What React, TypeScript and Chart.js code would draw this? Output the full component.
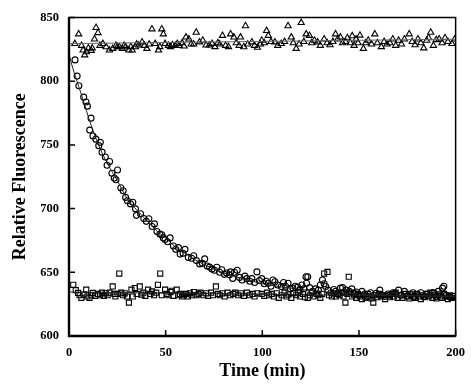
import React, { useEffect, useRef } from "react";
import { Chart, registerables } from "chart.js";
Chart.register(...registerables);

const xTicks = [0, 50, 100, 150, 200];
const yTicks = [600, 650, 700, 750, 800, 850];

const triX = [3,5,6.5,7.3,8.1,9,10,11.5,12,13.2,14,15,16,17.5,19.2,20.9,22.6,24.3,25,26,27.6,28.5,29.3,31,32,32.7,34.4,35,36.1,37.8,39,40.3,41.5,42.9,44.6,46.3,47,48,48.8,49.7,51.4,52.5,53.5,55,56,57,58.5,59.5,60.5,62,63.2,64.5,65.8,67.5,69.2,70.9,72.6,74,75.5,77,78,79.4,81,82.5,83.6,85.3,86.5,88,88.7,90.4,91.3,92.5,94.6,96,97.5,99,99.7,101,102.2,103.1,104.5,106.5,108,109.8,111.5,113.3,115,116,117.5,119,120.1,121.5,122.7,124.4,125.5,127,128.6,130,132,133.5,135,136.5,137.9,139,140.4,141.5,143,144,145.5,146.5,147.5,148.5,149.5,150.5,152.3,153.5,154.8,156.5,158.2,159.5,161.6,163,164.5,166,167.5,169,170.5,172,173.5,176,177.5,179,180.5,182,183.5,185,186,187.1,188.5,190,191.5,193,194.5,196,198.1,199.5];
const triY = [829.4,837,828,824.3,820.5,823,826,824,826,833,842,838,828,829.4,826.9,824.3,825.6,828,827,826.9,825.6,828,826.9,824.3,827,824.3,826.9,829,828.2,830.7,828,825.6,829,840.9,829.4,824.3,827,840.9,837,829.4,828,827,828.5,828,829.5,828,830,827.5,834.5,833,829,829,838.3,830.7,832,828.2,828.2,829.5,827,830,829,835.8,828,827,837,834.5,830,828,834.5,826.9,843.4,829,830.7,828,826.5,829,832,830,839.6,835.8,831,830.7,828,829.4,831,843.4,834.5,830,825.6,829,845.9,831,837,835.8,830,832,830.7,828,833,830,828.5,831,837,833,834.5,830,831,834,830,835.5,828,833,830,836,825.6,830,832,829,837,830,827,831,829,830,833,828,832,829,833,837,831,828.5,833,830,826,832,834,838.3,828,832.5,833,830,834,831,829.4,833];

const cirX = [3.1,4.2,5.1,7.6,8.8,9.5,10.7,11.4,12.4,13.9,15.4,16.2,17.1,18.8,19.7,21,22.2,23.4,24.3,25.1,26.8,28,29.3,30.2,31.8,33,34.4,34.9,37,38.7,40,41.3,43,44.2,45.5,47,48,48.8,49.7,51,52.3,54,55.2,56.6,57.5,59,60,61.7,63.4,64.5,65.9,67.6,69,70.2,71.5,72.7,74,75.3,76.5,77.9,79,80.4,81.5,83,83.6,84.7,85.6,87,88.2,89.5,91,92,93.5,94.6,96,97.2,98.5,99.7,101,102,103.1,104.5,105.5,106.5,108,109.8,111,112,113.3,114.5,115.8,117,118.3,119.5,120.5,121.5,122.6,123.5,122.9,124.5,126,127.5,129,130,131.1,132,132.8,134,135.5,137,137.9,139,140.4,141.5,142.5,143.5,145,146.3,147.5,148.5,150,151.5,153,154.5,156,157.5,159,160.8,162,163.5,165,166,167.6,169,170.5,172,173.5,175,176.5,178,178.6,180,182,183.5,185,186.5,188,188.8,190,191,192,193.2,193.9,195,196.5,197.3,199];
const cirY = [816.7,804,796.4,787.5,783.7,780.4,761.6,771,757,754.5,749.4,752,744.3,740.5,734,737,727.8,724,722.7,730.3,716.4,714,708.8,706.2,703.7,705,699.8,694.7,696,692.2,690,692,685.9,688,682,680,679.5,677,675.7,674,677,670.7,668,669.4,664.3,665,668,661.7,661,663,659.2,656.6,657,660.5,655,654.1,652.5,651.6,654,650,652,648.4,649.5,648,650.3,645.2,650,651.6,646,644,647,645,643,645,642,650.3,643.5,645,641,643,641.4,639,644,642.6,640,638.9,642,639,641.4,637,637.6,639,638.5,636,640,637,646.5,646.5,641.4,638,635,637,636,640,644,641,638.9,636,634,636.5,635,633,637.6,638,634,636,635,637,633.5,634.5,632,635,633,631,634,632,633.5,636,632,631,633,632,634,633,636,632,635,631.5,633,634,631,632.5,634,631,633,632,634,634,631,635,633,637.6,639,632,631,630.5,631];

const sqX = [2.2,3.5,4.7,5.5,6.4,7.5,8.9,9.5,10.6,11.5,12.3,13.5,15,16,17,18,19,20,21,22.6,23.5,24,25.1,26,27,28,28.8,30,31,32.3,33,34.1,35,36.6,37.5,38.5,39.5,40.9,42,43,44,45.1,46,47.2,48,49.7,50.5,51.5,52.5,53.1,54,55.7,56.5,57.5,58.5,59.5,60.5,61.5,62.5,63.5,64.6,66,67,68,69.5,71,72,73.5,74.5,76,77,78,79.4,80.5,82,83.5,85,86,87.5,89,90.5,92,93.5,95,96,97.5,99.7,101,102.5,103.5,104.8,106,107.5,108.5,110,111.5,112.5,113.5,115,116,117.5,118.5,119.5,121,122,123.5,124.5,125.5,126.5,128,129,130,131,132,133.7,134.5,136,137,138,139,140,141,142,143,144,144.7,145.5,146.5,147.5,148.5,149.5,150.5,151.5,152.5,153.5,154.5,155.5,156.5,157.4,158.5,159.5,160.5,161.5,162.5,163.5,165,166,167,168,169,170,171.5,172.5,173.5,175,176,177,178,179,180,181,182,183,184,185,186,187,188,189,190,191,192,193,194,195,196,197,198,199];
const sqY = [640.2,636,633.8,632,630,632.5,636.4,631,630,632,633.8,631.5,633,632,634,631.5,633.5,632,634,638.9,633,631,633,649,634,632,633.5,631,626.2,636.4,631,637.6,633,638.9,632.5,634,631.5,636.4,633,635,632,634,640.2,649,632,636.4,633,632,634.5,635.5,631.5,636.4,632,633,631,632,633,631,633.5,632,634.5,632,633,634,632,633.5,631.5,634,632,638.9,633,632,633.5,631,634,632,633,634,632,633.5,631.5,634,632,633,631,633.5,633,631.5,634,632,633,631,633.5,630,632,634,631,632.5,630,633.5,632,634,631,633,630.5,630,632,634,631,633,632,630,633,649,650.3,632,631,633.5,631,633,632,634,631,626.2,633,646.5,634,631,632.5,630,633,631,629,632,630,633,631,629.5,626.2,632,630.5,633,631,632,629,632,630.5,633,631,634,630,632,630,633,631,629.5,632.5,631,630,633,631,629,632,630.5,633,631,634,630,632,629.5,632,631,630,633,631,629,632,630,631.5];

const fitTriX = [0, 200];
const fitTriY = [829.5, 833];
const fitCirX = [0,2,5,8,10,15,20,25,30,35,40,45,50,55,60,65,70,75,80,85,90,95,100,110,120,130,140,150,160,170,180,190,200];
const fitCirY = [821,810,796,782,772,751,735,722,708,699,691,683,677,670,665,660,656,652.5,649.5,647,645,643,641,638.5,636.5,635,633.8,633,632.4,632,631.7,631.5,631.3];
const fitSqX = [0, 200];
const fitSqY = [634.5, 631];

const pts = (xs: number[], ys: number[]) => xs.map((x, i) => ({ x, y: ys[i] }));

const FONT = "'Liberation Serif', 'DejaVu Serif', serif";

export default function App() {
  const ref = useRef<HTMLCanvasElement>(null);
  useEffect(() => {
    if (!ref.current) return;
    const frame = {
      id: "frame",
      afterDraw(chart: any) {
        const { ctx, chartArea: a, scales } = chart;
        ctx.save();
        ctx.strokeStyle = "#000";
        ctx.lineWidth = 1.5;
        ctx.strokeRect(a.left, a.top, a.right - a.left, a.bottom - a.top);
        ctx.lineWidth = 2.4;
        ctx.beginPath();
        ctx.moveTo(a.left, a.top);
        ctx.lineTo(a.left, a.bottom);
        ctx.lineTo(a.right, a.bottom);
        ctx.stroke();
        ctx.lineWidth = 1.5;
        ctx.beginPath();
        xTicks.forEach((v) => {
          const px = scales.x.getPixelForValue(v);
          ctx.moveTo(px, a.bottom);
          ctx.lineTo(px, a.bottom - 6);
        });
        yTicks.forEach((v) => {
          const py = scales.y.getPixelForValue(v);
          ctx.moveTo(a.left, py);
          ctx.lineTo(a.left + 6, py);
        });
        ctx.stroke();
        ctx.restore();
      },
    };
    const mk = (data: any[], style: string, r: number) => ({
      data,
      pointStyle: style,
      pointRadius: r,
      pointBorderColor: "#000",
      pointBackgroundColor: "rgba(0,0,0,0)",
      pointBorderWidth: 1.1,
      showLine: false,
    });
    const line = (data: any[], color: string) => ({
      data,
      showLine: true,
      pointRadius: 0,
      borderColor: color,
      borderWidth: 1,
      tension: 0.4,
      cubicInterpolationMode: "monotone",
    });
    const chart = new Chart(ref.current, {
      type: "scatter",
      data: {
        datasets: [
          line(pts(fitTriX, fitTriY), "#666") as any,
          line(pts(fitCirX, fitCirY), "#222") as any,
          line(pts(fitSqX, fitSqY), "#222") as any,
          mk(pts(triX, triY), "triangle", 3.6) as any,
          mk(pts(cirX, cirY), "circle", 3) as any,
          mk(pts(sqX, sqY), "rect", 3.6) as any,
        ],
      },
      options: {
        responsive: false,
        animation: false,
        layout: { padding: { top: 8, right: 12, left: 0, bottom: 0 } },
        plugins: { legend: { display: false }, tooltip: { enabled: false } },
        scales: {
          x: {
            type: "linear",
            min: 0,
            max: 200,
            afterFit: (s: any) => { s.height = 54; },
            afterBuildTicks: (s: any) => { s.ticks = xTicks.map((v) => ({ value: v })); },
            ticks: { color: "#000", padding: 9, maxRotation: 0, font: { family: FONT, weight: "bold", size: 12.5 } },
            grid: { display: false, drawTicks: false },
            border: { display: false },
            title: { display: true, text: "Time (min)", color: "#000", font: { family: FONT, weight: "bold", size: 18 }, padding: { top: 0, bottom: 8 } },
          },
          y: {
            type: "linear",
            min: 600,
            max: 850,
            afterFit: (s: any) => { s.width = 69; },
            afterBuildTicks: (s: any) => { s.ticks = yTicks.map((v) => ({ value: v })); },
            ticks: { color: "#000", padding: 10, font: { family: FONT, weight: "bold", size: 12.5 } },
            grid: { display: false, drawTicks: false },
            border: { display: false },
            title: { display: true, text: "Relative Fluorescence", color: "#000", font: { family: FONT, weight: "bold", size: 18 }, padding: { top: 10, bottom: 0 } },
          },
        },
      },
      plugins: [frame],
    } as any);
    return () => chart.destroy();
  }, []);
  return (
    <div style={{ position: "fixed", left: 0, top: 0, width: 474, height: 390, background: "#fff" }}>
      <canvas ref={ref} width={474} height={390} style={{ display: "block" }} />
    </div>
  );
}
